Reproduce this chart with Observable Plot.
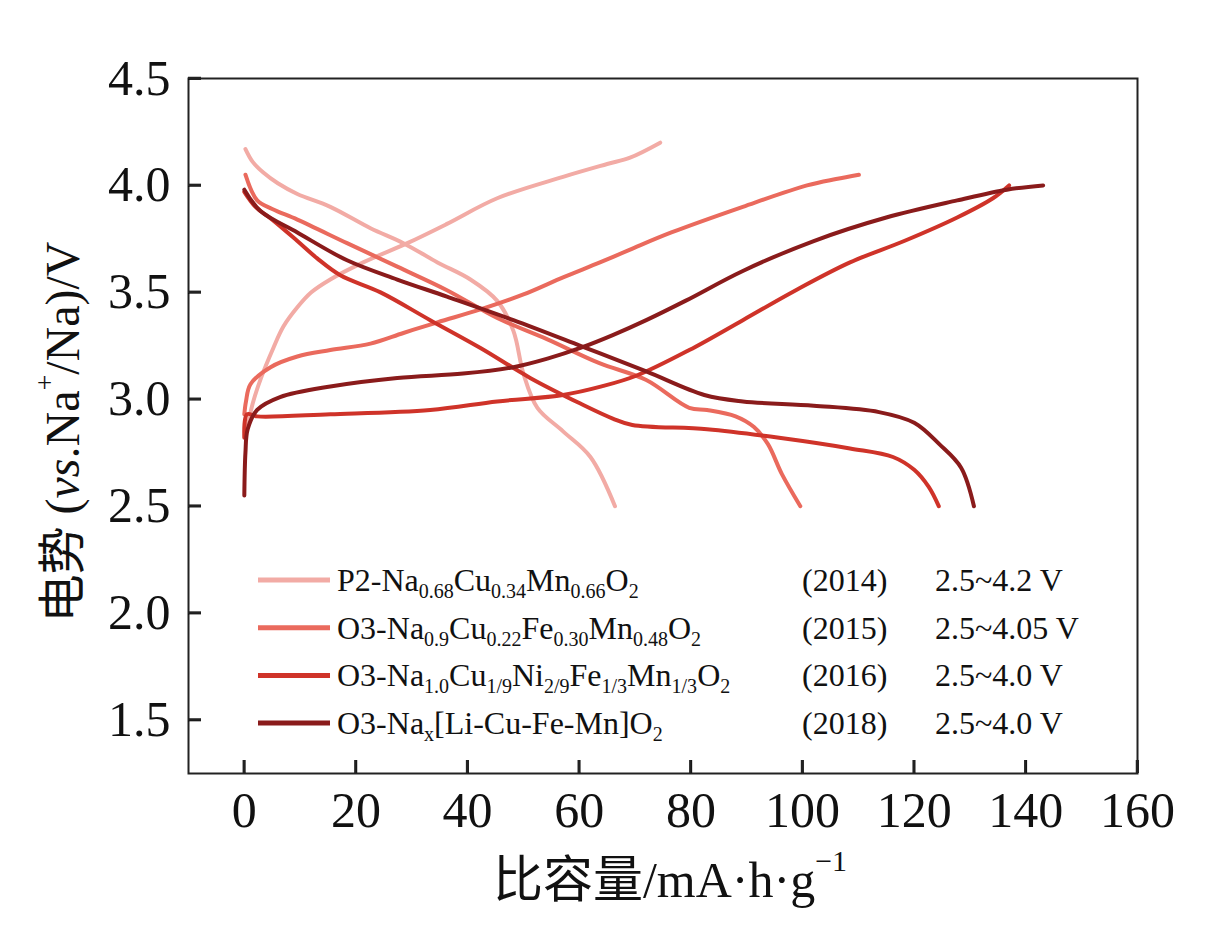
<!DOCTYPE html>
<html>
<head>
<meta charset="utf-8">
<script src="https://cdn.jsdelivr.net/npm/d3@7"></script>
<script src="https://cdn.jsdelivr.net/npm/@observablehq/plot@0.6"></script>
<style>
  html, body { margin: 0; padding: 0; background: #fff; }
  #chart { width: 1210px; height: 934px; }
</style>
</head>
<body>
<div id="chart"></div>
<script>
// ---- Data ----
const seriesNames = ["P2-2014", "O3-2015", "O3-2016", "O3-2018"];
const seriesColors = ["#f2aba5", "#ea6a5d", "#cf3329", "#8a1b1b"];

const xTicks = [0, 20, 40, 60, 80, 100, 120, 140, 160];
const yTicks = [1.5, 2.0, 2.5, 3.0, 3.5, 4.0, 4.5];

// P2-Na0.68Cu0.34Mn0.66O2 (2014)
const p2ChargeX = [0.5, 1.5, 3, 5.2, 7, 9.5, 12, 15.4, 21.3, 29.2, 36.3, 45.3, 57.1, 65, 69.1, 74.5];
const p2ChargeY = [2.86, 2.98, 3.1, 3.24, 3.34, 3.43, 3.5, 3.56, 3.64, 3.73, 3.82, 3.94, 4.04, 4.1, 4.13, 4.2];
const p2DischargeX = [0.2, 1.5, 3.4, 6, 9.5, 15.4, 22.6, 28.5, 34.6, 40.5, 45.3, 48.2, 50, 52.5, 57.1, 62, 66.4];
const p2DischargeY = [4.17, 4.11, 4.06, 4.01, 3.96, 3.9, 3.8, 3.73, 3.64, 3.56, 3.46, 3.32, 3.12, 2.96, 2.85, 2.73, 2.5];

// O3-Na0.9Cu0.22Fe0.30Mn0.48O2 (2015)
const o15ChargeX = [0, 0.3, 1.1, 4.7, 9.5, 15.4, 22.6, 28.5, 34.6, 42.3, 50, 57.1, 63.7, 69.1, 76.5, 89.3, 100.8, 106, 110.1];
const o15ChargeY = [2.93, 2.99, 3.07, 3.15, 3.2, 3.23, 3.26, 3.31, 3.36, 3.42, 3.49, 3.57, 3.64, 3.7, 3.78, 3.9, 4.0, 4.03, 4.05];
const o15DischargeX = [0.2, 2.3, 5, 9.5, 18.4, 27.4, 36.3, 45.3, 54.3, 63.5, 72, 79.7, 82.9, 88, 91.3, 93.8, 96.3, 99.6];
const o15DischargeY = [4.05, 3.93, 3.89, 3.84, 3.73, 3.62, 3.51, 3.38, 3.28, 3.17, 3.09, 2.96, 2.95, 2.92, 2.87, 2.79, 2.65, 2.5];

// O3-Na1.0Cu1/9Ni2/9Fe1/3Mn1/3O2 (2016)
const o16ChargeX = [0, 0.5, 2.3, 15.4, 33.3, 45.3, 57.1, 64, 70.2, 79.7, 89.3, 98.8, 108.5, 118.2, 127.7, 134.1, 137];
const o16ChargeY = [2.82, 2.93, 2.92, 2.93, 2.95, 2.99, 3.02, 3.06, 3.11, 3.23, 3.37, 3.51, 3.64, 3.74, 3.85, 3.94, 4.0];
const o16DischargeX = [0, 2, 5, 9.5, 13, 17.2, 24.4, 33.3, 42.3, 51.2, 60.2, 66, 69.5, 82.9, 95.8, 108.5, 116.2, 120, 122.6, 124.4];
const o16DischargeY = [3.97, 3.9, 3.84, 3.74, 3.66, 3.58, 3.5, 3.37, 3.24, 3.1, 2.98, 2.91, 2.88, 2.86, 2.82, 2.77, 2.73, 2.67, 2.59, 2.5];

// O3-Nax[Li-Cu-Fe-Mn]O2 (2018)
const o18ChargeX = [0, 0.2, 0.6, 2.3, 6.4, 15.4, 27.4, 39.2, 48.2, 54.3, 60.2, 66, 72, 79, 89.3, 102, 115, 127.7, 136.6, 143.1];
const o18ChargeY = [2.55, 2.75, 2.86, 2.95, 3.01, 3.06, 3.1, 3.12, 3.15, 3.19, 3.24, 3.3, 3.37, 3.46, 3.6, 3.74, 3.85, 3.93, 3.98, 4.0];
const o18DischargeX = [0, 2.9, 9.5, 18.4, 27.4, 36.3, 48.2, 60.2, 72, 82.4, 89.3, 102, 113.7, 120, 124.5, 128.4, 130.7];
const o18DischargeY = [3.98, 3.88, 3.78, 3.65, 3.56, 3.48, 3.37, 3.25, 3.13, 3.02, 2.99, 2.97, 2.94, 2.89, 2.79, 2.68, 2.5];

// Legend texts (_{...} = subscript)
const legendFormulas = [
  "P2-Na_{0.68}Cu_{0.34}Mn_{0.66}O_{2}",
  "O3-Na_{0.9}Cu_{0.22}Fe_{0.30}Mn_{0.48}O_{2}",
  "O3-Na_{1.0}Cu_{1/9}Ni_{2/9}Fe_{1/3}Mn_{1/3}O_{2}",
  "O3-Na_{x}[Li-Cu-Fe-Mn]O_{2}"
];
const legendYears = ["(2014)", "(2015)", "(2016)", "(2018)"];
const legendRanges = ["2.5~4.2 V", "2.5~4.05 V", "2.5~4.0 V", "2.5~4.0 V"];

// ---- Build table ----
const curves = [
  [seriesNames[0], p2ChargeX, p2ChargeY, p2DischargeX, p2DischargeY],
  [seriesNames[1], o15ChargeX, o15ChargeY, o15DischargeX, o15DischargeY],
  [seriesNames[2], o16ChargeX, o16ChargeY, o16DischargeX, o16DischargeY],
  [seriesNames[3], o18ChargeX, o18ChargeY, o18DischargeX, o18DischargeY]
];
const rows = [];
for (const [name, cx, cy, dx, dy] of curves) {
  cx.forEach((x, i) => rows.push({series: name, seg: name + "-c", x, y: cy[i]}));
  dx.forEach((x, i) => rows.push({series: name, seg: name + "-d", x, y: dy[i]}));
}

const FONT = "'Liberation Serif', 'Times New Roman', 'Noto Sans CJK SC', serif";
const AXIS = "black";

const W = 1210, H = 934, ML = 188, MR = 73, MT = 78, MB = 161, TICK = 13;

const chart = Plot.plot({
  width: W,
  height: H,
  marginLeft: ML,
  marginRight: MR,
  marginTop: MT,
  marginBottom: MB,
  style: {fontFamily: FONT, fontSize: "50px", color: "#111", background: "#fff"},
  x: {domain: [-10, 160]},
  y: {domain: [1.25, 4.5]},
  color: {domain: seriesNames, range: seriesColors},
  marks: [
    Plot.line(rows, {x: "x", y: "y", z: "seg", stroke: "series", strokeWidth: 4, curve: "catmull-rom", strokeLinecap: "round"}),
    Plot.frame({stroke: "#222", strokeWidth: 2}),
    // inward tick marks
    Plot.axisX({ticks: xTicks, tickSize: TICK, dy: -TICK, fill: "none", label: null, strokeWidth: 2.5, stroke: AXIS}),
    Plot.axisY({ticks: yTicks, tickSize: TICK, dx: TICK, fill: "none", label: null, strokeWidth: 2.5, stroke: AXIS}),
    // tick labels
    Plot.axisX({ticks: xTicks, tickSize: 0, tickPadding: 18, tickFormat: d => String(d), label: null}),
    Plot.axisY({ticks: yTicks, tickSize: 0, tickPadding: 18, tickFormat: d3.format(".1f"), label: null})
  ]
});

document.getElementById("chart").appendChild(chart);

const svg = d3.select(chart);

// Inward tick marks again, positioned with the plot's own scales (guarantees visibility)
const sx = chart.scale("x"), sy = chart.scale("y");
const tickG = svg.append("g").attr("stroke", "#222").attr("stroke-width", 2.5);
xTicks.forEach(v => {
  const px = sx.apply(v);
  tickG.append("line").attr("x1", px).attr("x2", px).attr("y1", H - MB).attr("y2", H - MB - TICK);
});
yTicks.forEach(v => {
  const py = sy.apply(v);
  tickG.append("line").attr("x1", ML).attr("x2", ML + TICK).attr("y1", py).attr("y2", py);
});

// Y title
const yt = svg.append("text")
  .attr("transform", "translate(62,432) rotate(-90)")
  .attr("text-anchor", "middle")
  .attr("dominant-baseline", "central")
  .attr("font-family", FONT)
  .attr("font-size", 48)
  .attr("fill", "#111");
yt.append("tspan").text("电势 (");
yt.append("tspan").attr("font-style", "italic").text("vs");
yt.append("tspan").text(".Na");
yt.append("tspan").attr("font-size", 28).attr("dy", -18).text("+");
yt.append("tspan").attr("dy", 18).text("/Na)/V");

// X title
const xt = svg.append("text")
  .attr("x", 670).attr("y", 880)
  .attr("text-anchor", "middle")
  .attr("dominant-baseline", "central")
  .attr("font-family", FONT)
  .attr("font-size", 50)
  .attr("fill", "#111");
xt.append("tspan").text("比容量/mA·h·g");
xt.append("tspan").attr("font-size", 30).attr("dy", -20).text("−1");

// Legend
const legendY0 = 580, legendDY = 47.7;
legendFormulas.forEach((f, i) => {
  const y = legendY0 + i * legendDY;
  svg.append("line")
    .attr("x1", 258).attr("x2", 330).attr("y1", y).attr("y2", y)
    .attr("stroke", seriesColors[i]).attr("stroke-width", 5);
  const t = svg.append("text")
    .attr("x", 337).attr("y", y + 11)
    .attr("text-anchor", "start")
    .attr("font-family", FONT).attr("font-size", 32).attr("fill", "#111");
  const parts = f.split(/(_\{[^}]*\})/).filter(s => s.length);
  let shifted = false;
  for (const p of parts) {
    if (p.startsWith("_{")) {
      t.append("tspan").attr("font-size", 20).attr("dy", 7).text(p.slice(2, -1));
      shifted = true;
    } else {
      t.append("tspan").attr("dy", shifted ? -7 : 0).text(p);
      shifted = false;
    }
  }
  svg.append("text")
    .attr("x", 802).attr("y", y + 11).attr("text-anchor", "start")
    .attr("font-family", FONT).attr("font-size", 32).attr("fill", "#111")
    .text(legendYears[i]);
  svg.append("text")
    .attr("x", 935).attr("y", y + 11).attr("text-anchor", "start")
    .attr("font-family", FONT).attr("font-size", 32).attr("fill", "#111")
    .text(legendRanges[i]);
});
</script>
</body>
</html>
